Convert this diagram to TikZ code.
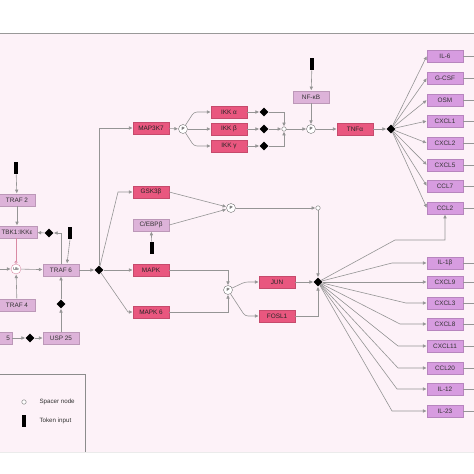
\documentclass[tikz,border=0pt]{standalone}
\usepackage{fontspec}
\setmainfont{Liberation Sans}
\usetikzlibrary{shapes.geometric,arrows.meta}
\definecolor{bgpink}{HTML}{FDF2F8}
\definecolor{genered}{HTML}{E9577F}
\definecolor{genelilac}{HTML}{D79CE0}
\definecolor{genemauve}{HTML}{DDB3D9}
\definecolor{linegray}{HTML}{959595}
\definecolor{ubpink}{HTML}{D98AA4}

\tikzset{
	gene/.style={minimum width=36pt,minimum height=12.5pt,inner sep=0pt,font=\fontsize{6.4}{7}\selectfont},
	redgene/.style={gene,fill=genered,draw=genered!85!black,line width=0.3pt,text=black!85},
	lilacgene/.style={gene,fill=genelilac,draw=genelilac!85!black,line width=0.3pt,text=black!80},
	mauvegene/.style={gene,fill=genemauve,draw=genemauve!85!black,line width=0.3pt,text=black!80},
	junction/.style={diamond,fill=black,minimum width=9pt,minimum height=9pt,inner sep=0pt},
	phos/.style={circle,draw=black!55,fill=white,minimum size=9pt,inner sep=0pt,font=\fontsize{4.5}{5}\selectfont},
	spacer/.style={circle,draw=black!55,fill=white,minimum size=4.5pt,inner sep=0pt},
	token/.style={rectangle,fill=black,minimum width=3.5pt,minimum height=12.5pt,inner sep=0pt},
	link/.style={draw=linegray,line width=0.6pt,shorten >=0.5pt,-{Triangle[length=3.4pt,width=3.2pt]}},
	plain/.style={draw=linegray,line width=0.6pt}
}

\begin{document}
\begin{tikzpicture}[x=1pt,y=-1pt]
			\useasboundingbox (0,0) rectangle (474,474);
			\clip (0,0) rectangle (474,474);
			
			% background
			\fill[white] (0,0) rectangle (474,474);
			\fill[bgpink] (0,33) rectangle (474,452);
			\draw[black!40,line width=0.6pt] (0,33) -- (474,33);
			\draw[black!8,line width=0.6pt] (0,452) -- (474,452);
			
			% left part
			\node[token] (tokA) at (16,168) {};
			\node[mauvegene] (traf2) at (17,200) {TRAF 2};
			\node[mauvegene,minimum width=40pt] (tbk1) at (17,232) {TBK1:IKKε};
			\node[junction] (dTbk) at (49,233) {};
			\node[token] (tokB) at (70,233) {};
			\node[circle,draw=ubpink,fill=white,minimum size=10pt,inner sep=0pt,font=\fontsize{4}{5}\selectfont] (ub) at (16,269) {Ub};
			\coordinate (inUb) at (0,269);
			\node[mauvegene] (traf4) at (17,305) {TRAF 4};
			\node[mauvegene] (traf6) at (61,270) {TRAF 6};
			\node[junction] (dUsp) at (61,304) {};
			\node[mauvegene,text width=32pt,align=right,inner xsep=2pt] (leftcut) at (-6,338) {5};
			\node[junction] (dLeft) at (30,338) {};
			\node[mauvegene] (usp25) at (61,338) {USP 25};
			\node[junction] (dTraf) at (99,270) {};
			
			\draw[link] (tokA) -- (traf2);
			\draw[link] (traf2) -- (tbk1);
			\draw[link] (dTbk) -- (tbk1);
			\draw[link] (traf6.north) |- (dTbk);
			\draw[link] (tokB.south) -- ([xshift=6pt]traf6.north);
			\draw[draw=ubpink,line width=0.6pt,-{Circle[open,length=3pt,width=3pt]}] (tbk1.south -| ub) -- (ub.north);
			\draw[link] (inUb) -- (ub);
			\draw[link] (traf4) -- (ub);
			\draw[link] (ub) -- (traf6);
			\draw[link] (leftcut) -- (dLeft);
			\draw[link] (dLeft) -- (usp25);
			\draw[link] (usp25) -- (dUsp);
			\draw[link] (dUsp) -- (traf6);
			\draw[link] (traf6) -- (dTraf);
			
			% middle column
			\node[redgene] (map3k7) at (151,128) {MAP3K7};
			\node[redgene] (gsk3b) at (151,192) {GSK3β};
			\node[mauvegene] (cebpb) at (151,225) {C/EBPβ};
			\node[token] (tokC) at (152,248) {};
			\node[redgene] (mapk) at (151,270) {MAPK};
			\node[redgene] (mapk6) at (151,312) {MAPK 6};
			
			\draw[link] (dTraf) |- (map3k7);
			\draw[link] (dTraf) -- (118,192) -- (gsk3b);
			\draw[link] (dTraf) -- (mapk);
			\draw[link] (dTraf) -- (128,312) -- (mapk6);
			\draw[link] (tokC) -- (cebpb);
			
			% IKK complex
			\node[phos] (pIkk) at (183,129) {P};
			\node[redgene] (ikka) at (229,112) {IKK α};
			\node[redgene] (ikkb) at (229,129) {IKK β};
			\node[redgene] (ikkg) at (229,146) {IKK γ};
			\node[junction] (dIkka) at (264,112) {};
			\node[junction] (dIkkb) at (264,129) {};
			\node[junction] (dIkkg) at (264,146) {};
			\node[spacer] (spIkk) at (284,129) {};
			
			\draw[link] (map3k7) -- (pIkk);
			\draw[link,rounded corners=3pt] (pIkk) -- (194,112) -- (ikka);
			\draw[link] (pIkk) -- (ikkb);
			\draw[link,rounded corners=3pt] (pIkk) -- (194,146) -- (ikkg);
			\draw[link] (ikka) -- (dIkka);
			\draw[link] (ikkb) -- (dIkkb);
			\draw[link] (ikkg) -- (dIkkg);
			\draw[link] (dIkka) -| (spIkk);
			\draw[link] (dIkkb) -- (spIkk);
			\draw[link] (dIkkg) -| (spIkk);
			
			% NF-kB and TNF
			\node[token] (tokD) at (312,64) {};
			\node[mauvegene] (nfkb) at (311,97) {NF-κB};
			\node[phos] (pNfkb) at (311,129) {P};
			\node[redgene] (tnfa) at (355,129) {TNFα};
			\node[junction] (dTnf) at (391,129) {};
			
			\draw[link] (tokD) -- (nfkb);
			\draw[link] (nfkb) -- (pNfkb);
			\draw[link] (spIkk) -- (pNfkb);
			\draw[link] (pNfkb) -- (tnfa);
			\draw[link] (tnfa) -- (dTnf);
			
			% GSK3b and C/EBPb
			\node[phos] (pGsk) at (231,208) {P};
			\node[spacer] (spGsk) at (318,208) {};
			
			\draw[link] (gsk3b.east) -- (pGsk);
			\draw[link] (cebpb.east) -- (pGsk);
			\draw[link] (pGsk) -- (spGsk);
			
			% MAPK, JUN, FOSL1
			\node[phos] (pMapk) at (228,290) {P};
			\node[redgene] (jun) at (277,282) {JUN};
			\node[redgene] (fosl1) at (277,316) {FOSL1};
			\node[junction] (dJun) at (318,282) {};
			
			\draw[link] (mapk) -| (pMapk);
			\draw[link] (mapk6) -| (pMapk);
			\draw[link,rounded corners=3pt] (pMapk) -- (245,282) -- (jun);
			\draw[link,rounded corners=3pt] (pMapk) -- (245,316) -- (fosl1);
			\draw[link] (jun) -- (dJun);
			\draw[link] (fosl1) -| (dJun);
			\draw[link] (spGsk) -- (dJun);
			
			% targets of TNFa
			\node[lilacgene] (il6) at (445,56) {IL-6};
			\node[lilacgene] (gcsf) at (445,78) {G-CSF};
			\node[lilacgene] (osm) at (445,100) {OSM};
			\node[lilacgene] (cxcl1) at (445,121) {CXCL1};
			\node[lilacgene] (cxcl2) at (445,143) {CXCL2};
			\node[lilacgene] (cxcl5) at (445,165) {CXCL5};
			\node[lilacgene] (ccl7) at (445,186) {CCL7};
			\node[lilacgene] (ccl2) at (445,208) {CCL2};
			
			\draw[link] (dTnf) -- (il6.west);
			\draw[link] (dTnf) -- (gcsf.west);
			\draw[link] (dTnf) -- (osm.west);
			\draw[link] (dTnf) -- (cxcl1.west);
			\draw[link] (dTnf) -- (cxcl2.west);
			\draw[link] (dTnf) -- (cxcl5.west);
			\draw[link] (dTnf) -- (ccl7.west);
			\draw[link] (dTnf) -- (ccl2.west);
			
			% targets of JUN / FOSL1
			\node[lilacgene] (il1b) at (445,263) {IL-1β};
			\node[lilacgene] (cxcl9) at (445,282) {CXCL9};
			\node[lilacgene] (cxcl3) at (445,303) {CXCL3};
			\node[lilacgene] (cxcl8) at (445,324) {CXCL8};
			\node[lilacgene] (cxcl11) at (445,346) {CXCL11};
			\node[lilacgene] (ccl20) at (445,368) {CCL20};
			\node[lilacgene] (il12) at (445,389) {IL-12};
			\node[lilacgene] (il23) at (445,411) {IL-23};
			
			\draw[link] (dJun) -- (395,240) -- (445,240) -- (ccl2.south);
			\draw[link] (dJun) -- (392,263) -- (il1b);
			\draw[link] (dJun) -- (cxcl9);
			\draw[link] (dJun) -- (406,303) -- (cxcl3);
			\draw[link] (dJun) -- (400,324) -- (cxcl8);
			\draw[link] (dJun) -- (398,346) -- (cxcl11);
			\draw[link] (dJun) -- (398,368) -- (ccl20);
			\draw[link] (dJun) -- (397,389) -- (il12);
			\draw[link] (dJun) -- (392,411) -- (il23);
			
			% outgoing lines
			\draw[plain] (il6.east) -- ++(12,0);
			\draw[plain] (gcsf.east) -- ++(12,0);
			\draw[plain] (osm.east) -- ++(12,0);
			\draw[plain] (cxcl1.east) -- ++(12,0);
			\draw[plain] (cxcl2.east) -- ++(12,0);
			\draw[plain] (cxcl5.east) -- ++(12,0);
			\draw[plain] (ccl7.east) -- ++(12,0);
			\draw[plain] (ccl2.east) -- ++(12,0);
			\draw[plain] (il1b.east) -- ++(12,0);
			\draw[plain] (cxcl9.east) -- ++(12,0);
			\draw[plain] (cxcl3.east) -- ++(12,0);
			\draw[plain] (cxcl8.east) -- ++(12,0);
			\draw[plain] (cxcl11.east) -- ++(12,0);
			\draw[plain] (ccl20.east) -- ++(12,0);
			\draw[plain] (il12.east) -- ++(12,0);
			\draw[plain] (il23.east) -- ++(12,0);
			
			% legend
			\draw[black!45,line width=0.6pt] (-1,374) -- (85,374) -- (85,452);
			\node[spacer] (legSpacer) at (24,402) {};
			\node[anchor=west,font=\fontsize{6.2}{7}\selectfont,text=black!80] (legSpacerText) at (36,402) {Spacer node};
			\node[token] (legToken) at (24,421) {};
			\node[anchor=west,font=\fontsize{6.2}{7}\selectfont,text=black!80] (legTokenText) at (36,421) {Token input};
		\end{tikzpicture}
\end{document}
